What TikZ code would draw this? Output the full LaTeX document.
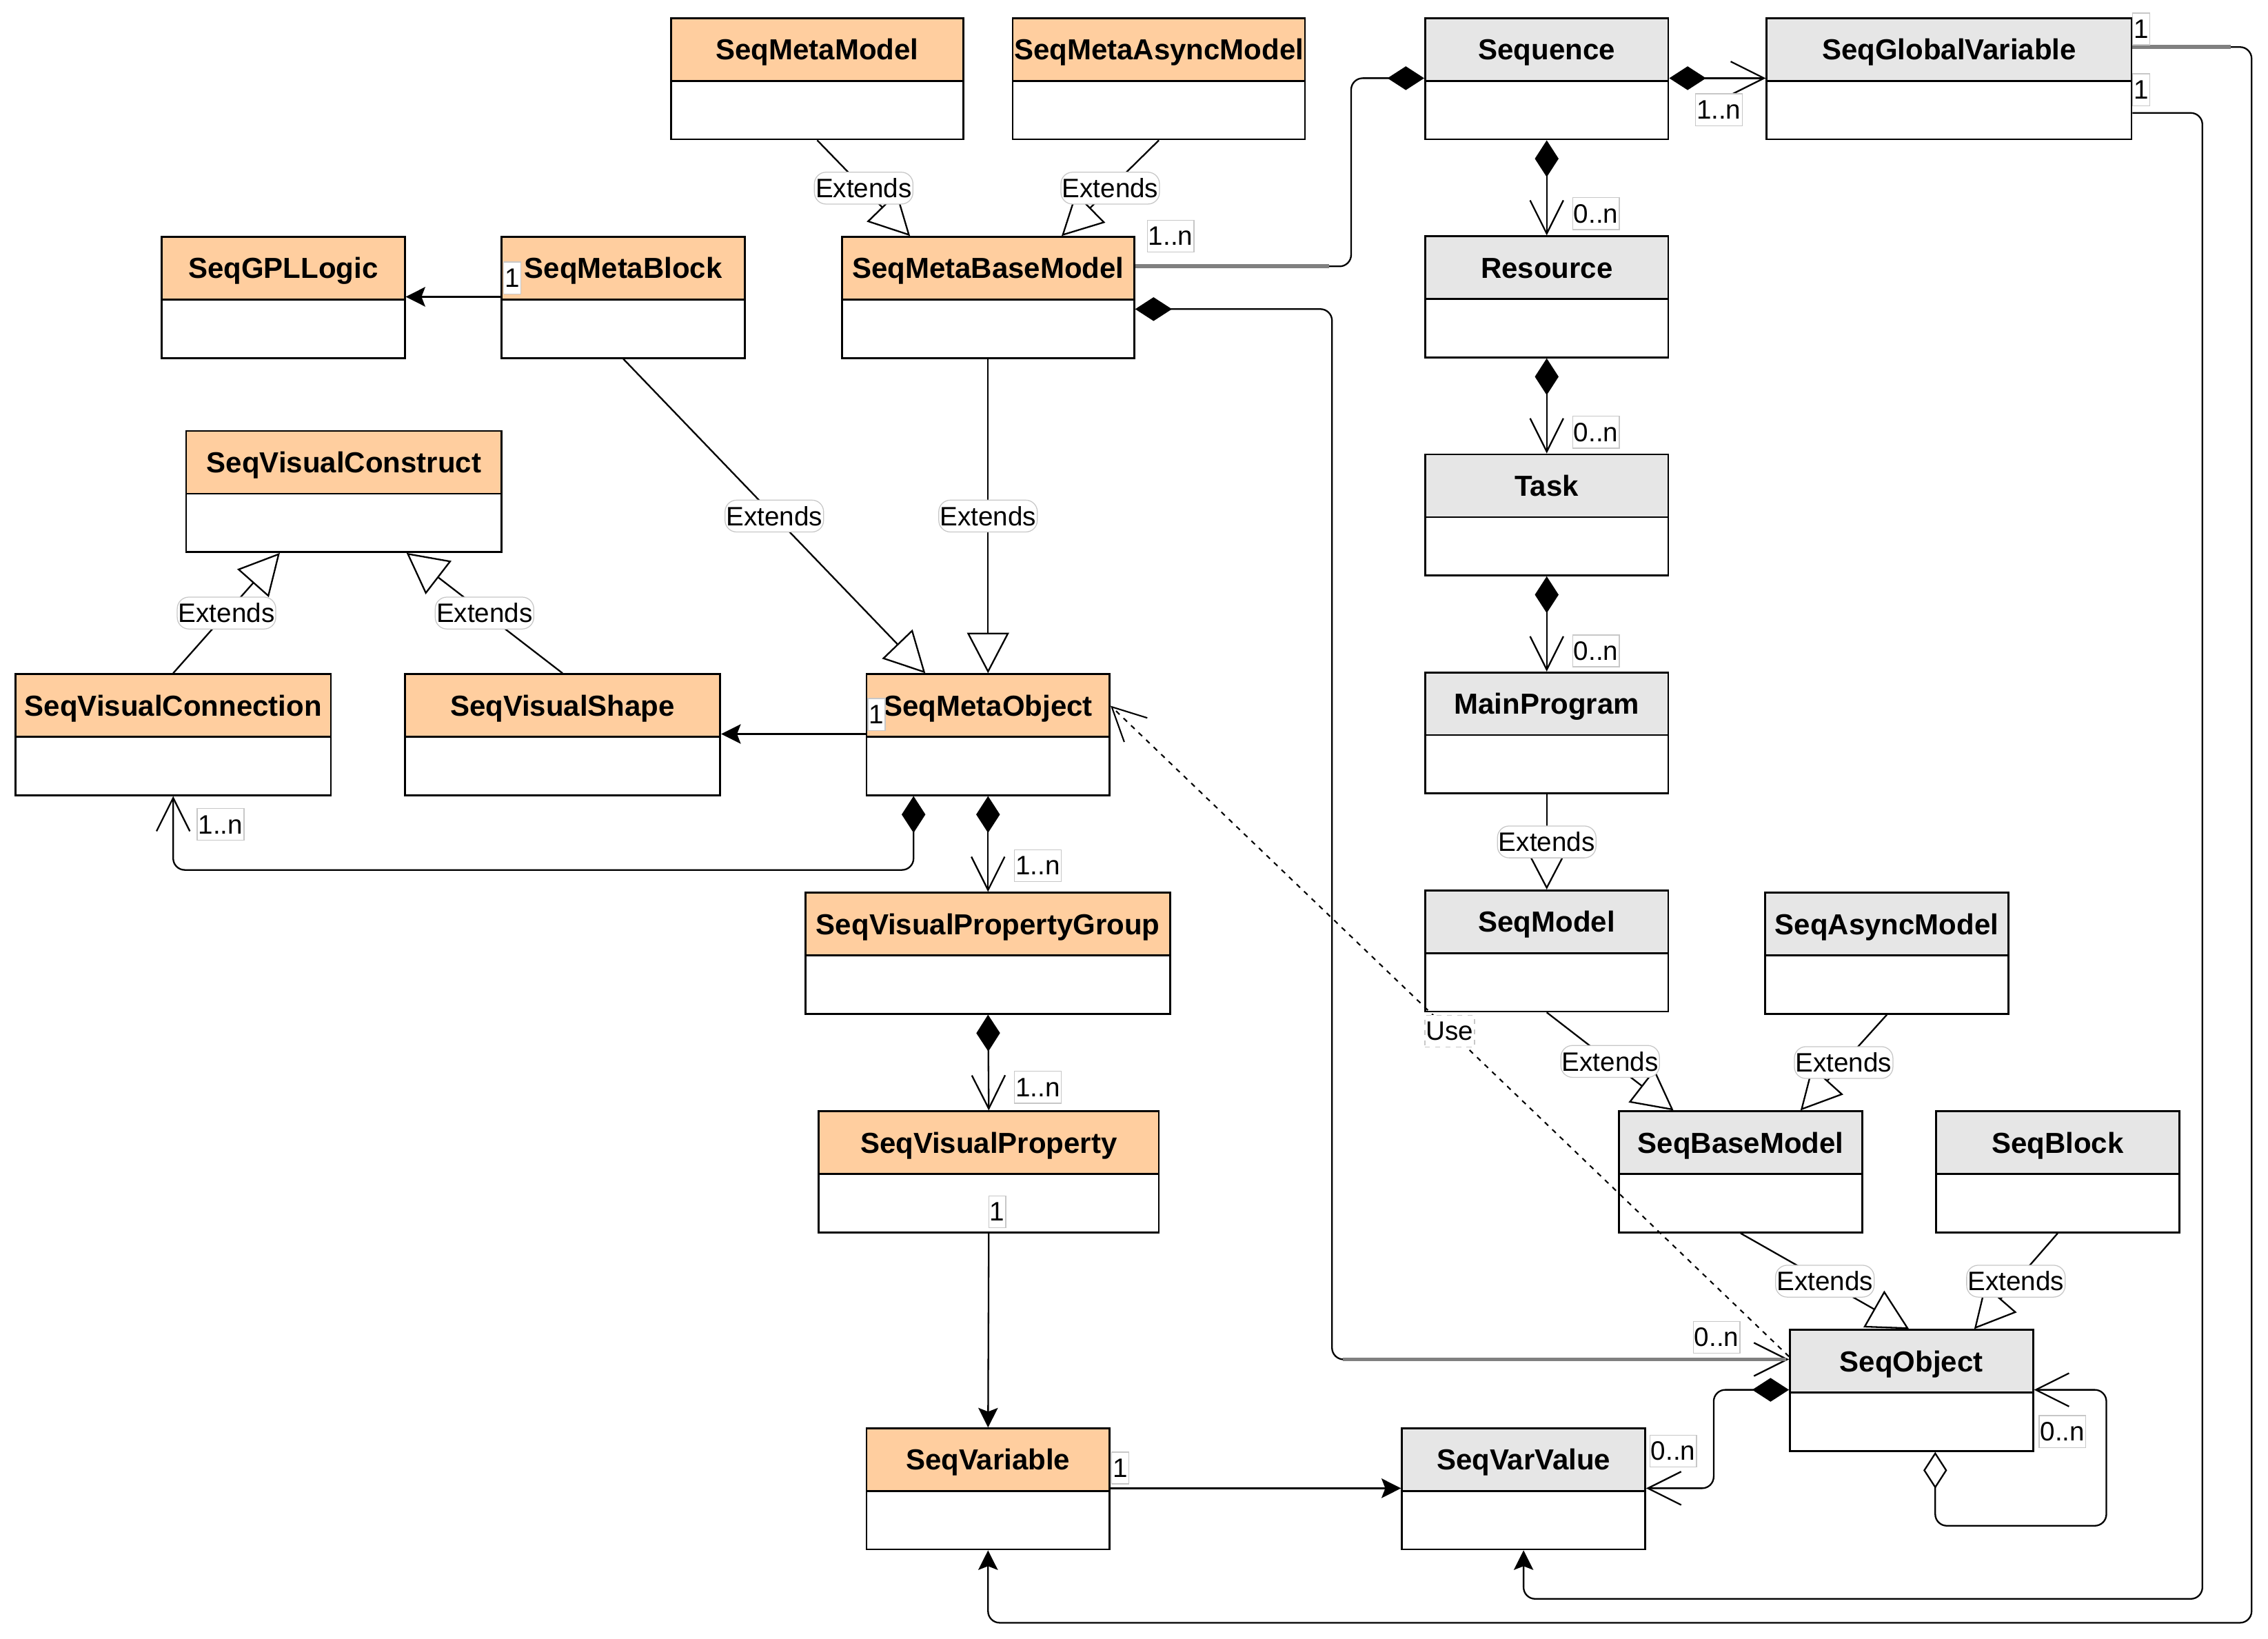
\documentclass[tikz,border=0pt]{standalone}
\usepackage{fontspec}
\setmainfont{Liberation Sans}
\usetikzlibrary{shapes, calc, positioning, arrows.meta}

\definecolor{metafill}{HTML}{FFCE9F}
\definecolor{seqfill}{HTML}{E6E6E6}
\definecolor{selgray}{HTML}{808080}

\newcommand{\classparts}[2]{\makebox[#1]{\rule[-6.95pt]{0pt}{21pt}#2}\nodepart{two}\rule{0pt}{19.5pt}}

\begin{document}
\begin{tikzpicture}[x=0.5pt, y=-0.5pt]
		\tikzstyle{umlclass}=[rectangle split, rectangle split parts=2, draw, line width=0.65pt, inner sep=0pt, anchor=north west, font=\bfseries\fontsize{10}{12}\selectfont, rectangle split empty part height=19.5pt, rectangle split empty part depth=0pt]
		\tikzstyle{metaclass}=[umlclass, rectangle split part fill={metafill, white}]
		\tikzstyle{seqclass}=[umlclass, rectangle split part fill={seqfill, white}]
		\tikzstyle{tag}=[fill=white, draw=black!22, line width=0.3pt, inner xsep=0.4pt, inner ysep=0pt, minimum height=11pt, font=\fontsize{9.2}{11}\selectfont]
		\tikzstyle{assoc}=[line width=0.55pt, rounded corners=4pt]
		\tikzstyle{inherit}=[assoc, -{Triangle[fill=white, length=14pt, width=14.5pt]}]
		\tikzstyle{compose}=[assoc, {Diamond[length=12.7pt, width=8.2pt]}-{Straight Barb[length=11.5pt, width=11.5pt]}]
		\tikzstyle{composeline}=[assoc, {Diamond[length=12.7pt, width=8.2pt]}-]
		\tikzstyle{aggregate}=[assoc, {Diamond[fill=white, length=12.7pt, width=8.2pt]}-{Straight Barb[length=11.5pt, width=11.5pt]}]
		\tikzstyle{navigate}=[assoc, -{Stealth[length=6.75pt, width=6.75pt, inset=1.3pt]}]
		\tikzstyle{depend}=[line width=0.5pt, dash pattern=on 1.7pt off 1.9pt, -{Straight Barb[length=11.5pt, width=11.5pt]}]
		\tikzstyle{highlight}=[line width=1.4pt, selgray]

		\useasboundingbox (0,0) rectangle (1567,1131.7);

		% meta classes
		\node[metaclass] (seqmetamodel) at (463,12) {\classparts{101pt}{SeqMetaModel}};
		\node[metaclass] (seqmetaasyncmodel) at (699,12) {\classparts{101pt}{SeqMetaAsyncModel}};
		\node[metaclass] (seqgpllogic) at (111,163) {\classparts{84pt}{SeqGPLLogic}};
		\node[metaclass] (seqmetablock) at (346,163) {\classparts{84pt}{SeqMetaBlock}};
		\node[metaclass] (seqmetabasemodel) at (581,163) {\classparts{101pt}{SeqMetaBaseModel}};
		\node[metaclass] (seqvisualconstruct) at (128,297) {\classparts{109pt}{SeqVisualConstruct}};
		\node[metaclass] (seqvisualconnection) at (10,465) {\classparts{109pt}{SeqVisualConnection}};
		\node[metaclass] (seqvisualshape) at (279,465) {\classparts{109pt}{SeqVisualShape}};
		\node[metaclass] (seqmetaobject) at (598,465) {\classparts{84pt}{SeqMetaObject}};
		\node[metaclass] (seqvisualpropertygroup) at (556,616) {\classparts{126pt}{SeqVisualPropertyGroup}};
		\node[metaclass] (seqvisualproperty) at (565,767) {\classparts{117.5pt}{SeqVisualProperty}};
		\node[metaclass] (seqvariable) at (598,986) {\classparts{84pt}{SeqVariable}};

		% sequence classes
		\node[seqclass] (sequence) at (984,12) {\classparts{84pt}{Sequence}};
		\node[seqclass, below=32.85pt of sequence] (resource) {\classparts{84pt}{Resource}};
		\node[seqclass, below=32.85pt of resource] (task) {\classparts{84pt}{Task}};
		\node[seqclass, below=32.85pt of task] (mainprogram) {\classparts{84pt}{MainProgram}};
		\node[seqclass, below=32.85pt of mainprogram] (seqmodel) {\classparts{84pt}{SeqModel}};
		\node[seqclass] (seqglobalvariable) at (1220,12) {\classparts{126pt}{SeqGlobalVariable}};
		\node[seqclass] (seqasyncmodel) at (1219,616) {\classparts{84pt}{SeqAsyncModel}};
		\node[seqclass] (seqbasemodel) at (1118,767) {\classparts{84pt}{SeqBaseModel}};
		\node[seqclass] (seqblock) at (1337,767) {\classparts{84pt}{SeqBlock}};
		\node[seqclass] (seqobject) at (1236,918) {\classparts{84pt}{SeqObject}};
		\node[seqclass] (seqvarvalue) at (968,986) {\classparts{84pt}{SeqVarValue}};

		% extends
		\draw[inherit] (seqmetamodel.south) -- ($(seqmetabasemodel.north west)!0.235!(seqmetabasemodel.north east)$) node[tag, midway] {Extends};
		\draw[inherit] (seqmetaasyncmodel.south) -- ($(seqmetabasemodel.north west)!0.75!(seqmetabasemodel.north east)$) node[tag, midway] {Extends};
		\draw[inherit] (seqmetablock.south) -- ($(seqmetaobject.north west)!0.244!(seqmetaobject.north east)$) node[tag, midway] {Extends};
		\draw[inherit] (seqmetabasemodel.south) -- (seqmetaobject.north) node[tag, midway] {Extends};
		\draw[inherit] (seqvisualconnection.north) -- ($(seqvisualconstruct.south west)!0.298!(seqvisualconstruct.south east)$) node[tag, midway] {Extends};
		\draw[inherit] (seqvisualshape.north) -- ($(seqvisualconstruct.south west)!0.697!(seqvisualconstruct.south east)$) node[tag, midway] {Extends};
		\draw[inherit] (mainprogram.south) -- (seqmodel.north) node[tag, midway] {Extends};
		\draw[inherit] (seqmodel.south) -- ($(seqbasemodel.north west)!0.226!(seqbasemodel.north east)$) node[tag, midway] {Extends};
		\draw[inherit] (seqasyncmodel.south) -- ($(seqbasemodel.north west)!0.744!(seqbasemodel.north east)$) node[tag, midway] {Extends};
		\draw[inherit] (seqbasemodel.south) -- ($(seqobject.north west)!0.49!(seqobject.north east)$) node[tag, midway] {Extends};
		\draw[inherit] (seqblock.south) -- ($(seqobject.north west)!0.756!(seqobject.north east)$) node[tag, midway] {Extends};

		% composition and aggregation
		\draw[compose] (sequence.south) -- (resource.north);
		\draw[compose] (resource.south) -- (task.north);
		\draw[compose] (task.south) -- (mainprogram.north);
		\draw[compose] ($(sequence.north east)+(0,42)$) -- ($(seqglobalvariable.north west)+(0,42)$);
		\draw[composeline] ($(sequence.north west)+(0,42)$) -- ++(-50.5,0) |- ($(seqmetabasemodel.north east)+(0,21)$);
		\draw[compose] ($(seqmetabasemodel.north east)+(0,50.5)$) -- ++(136,0) |- ($(seqobject.north west)+(0,21)$);
		\draw[compose] ($(seqmetaobject.south west)!0.196!(seqmetaobject.south east)$) -- ++(0,51) -| (seqvisualconnection.south);
		\draw[compose] (seqmetaobject.south) -- (seqvisualpropertygroup.north);
		\draw[compose] (seqvisualpropertygroup.south) -- (seqvisualproperty.north);
		\draw[compose] ($(seqobject.north west)+(0,42)$) -- ++(-52,0) |- ($(seqvarvalue.north east)+(0,42)$);
		\draw[aggregate] ($(seqobject.south west)!0.597!(seqobject.south east)$) -- ++(0,51) -| ($(seqobject.north east)+(50,42)$) -- ($(seqobject.north east)+(0,42)$);

		% navigation
		\draw[navigate] ($(seqmetablock.north west)+(0,42)$) -- ($(seqgpllogic.north east)+(0,42)$);
		\draw[navigate] ($(seqmetaobject.north west)+(0,42)$) -- ($(seqvisualshape.north east)+(0,42)$);
		\draw[navigate] (seqvisualproperty.south) -- (seqvariable.north);
		\draw[navigate] ($(seqvariable.north east)+(0,42)$) -- ($(seqvarvalue.north west)+(0,42)$);
		\draw[navigate] ($(seqglobalvariable.north east)+(0,20.5)$) -| ($(seqvariable.south)+(873,50)$) -| (seqvariable.south);
		\draw[navigate] ($(seqglobalvariable.north east)+(0,66)$) -| ($(seqvarvalue.south)+(469,33.5)$) -| (seqvarvalue.south);

		% use
		\draw[depend] ($(seqobject.north west)+(0,19)$) -- ($(seqmetaobject.north east)+(0,22.5)$) node[tag, midway] {Use};

		% selected segments
		\draw[highlight] ($(seqmetabasemodel.north east)+(0,21)$) -- ++(134,0);
		\draw[highlight] ($(seqobject.north west)+(-308,21)$) -- ($(seqobject.north west)+(-2,21)$);
		\draw[highlight] ($(seqglobalvariable.north east)+(0,20.5)$) -- ++(68,0);

		% multiplicities
		\node[tag] (mbasemodel) at (808.8,163) {1..n};
		\node[tag] (mglobal) at (1187.5,75.8) {1..n};
		\node[tag] (mresource) at (1102.7,147.6) {0..n};
		\node[tag] (mtask) at (1102.7,298.6) {0..n};
		\node[tag] (mmainprogram) at (1102.7,449.6) {0..n};
		\node[tag] (mgpllogic) at (354,192) {1};
		\node[tag] (mvisualshape) at (605.6,493.5) {1};
		\node[tag] (mconnection) at (152.4,569.5) {1..n};
		\node[tag] (mgroup) at (717,598) {1..n};
		\node[tag] (mproperty) at (717,751) {1..n};
		\node[tag] (mvariable) at (689,837) {1};
		\node[tag] (mvarvalue) at (774,1014) {1};
		\node[tag] (mvalues) at (1156,1002.4) {0..n};
		\node[tag] (mchildren) at (1425,988.8) {0..n};
		\node[tag] (mobjects) at (1186,923.8) {0..n};
		\node[tag] (mglobalone) at (1479.4,20) {1};
		\node[tag] (mglobaltwo) at (1479.4,62) {1};

	\end{tikzpicture}
\end{document}
